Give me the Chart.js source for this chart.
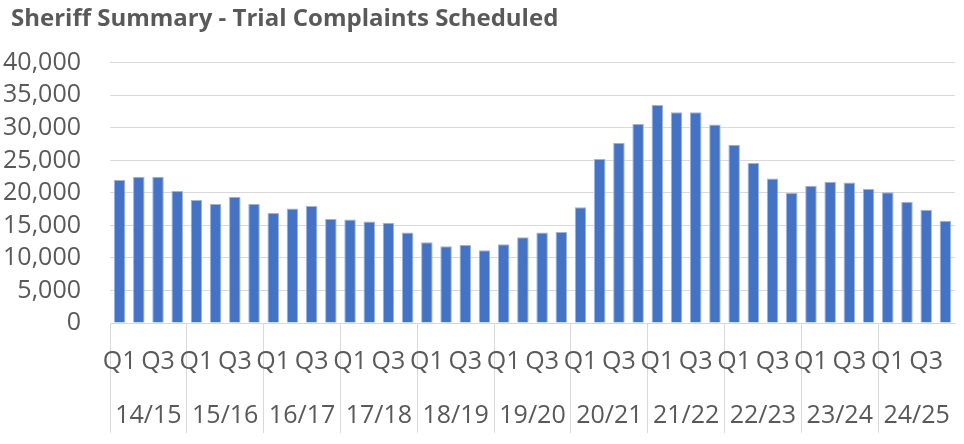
<!DOCTYPE html>
<html>
<head>
<meta charset="utf-8">
<script src="https://cdn.jsdelivr.net/npm/chart.js@4"></script>
<style>
  html, body { margin: 0; padding: 0; background: #fff; }
  #wrap { width: 964px; height: 444px; position: relative; }
</style>
</head>
<body>
<div id="wrap"><canvas id="chart"></canvas></div>
<script>
// fiscal years and quarters on the x axis
const years = ['14/15', '15/16', '16/17', '17/18', '18/19', '19/20', '20/21', '21/22', '22/23', '23/24', '24/25'];
const quarters = ['Q1', 'Q2', 'Q3', 'Q4'];

// trial complaints scheduled, one row of 4 quarters per year
const y1415 = [22000, 22500, 22500, 20300];
const y1516 = [18900, 18300, 19400, 18300];
const y1617 = [16900, 17600, 18000, 16000];
const y1718 = [15900, 15600, 15400, 13900];
const y1819 = [12400, 11800, 12000, 11200];
const y1920 = [12100, 13200, 13900, 14000];
const y2021 = [17800, 25200, 27700, 30600];
const y2122 = [33500, 32400, 32400, 30500];
const y2223 = [27400, 24600, 22200, 20000];
const y2324 = [21100, 21700, 21600, 20600];
const y2425 = [20100, 18600, 17400, 15700];

const yTicks = [0, 5000, 10000, 15000, 20000, 25000, 30000, 35000, 40000];

const labels = [];
years.forEach(y => quarters.forEach(q => labels.push(q)));
const values = [].concat(y1415, y1516, y1617, y1718, y1819, y1920, y2021, y2122, y2223, y2324, y2425);

const grey = '#595959';
const gridGrey = '#d9d9d9';
const font = { family: '"Open Sans", sans-serif', size: 25 };

// nudge the title right a little, the y labels need the room at the left edge
const titleIndent = {
  id: 'titleIndent',
  afterLayout(chart) {
    if (chart.titleBlock) {
      chart.titleBlock.left += 9;
      chart.titleBlock.right += 9;
    }
  }
};

new Chart(document.getElementById('chart').getContext('2d'), {
  type: 'bar',
  data: {
    labels: labels,
    datasets: [{
      data: values,
      backgroundColor: '#4472C4',
      borderColor: '#9db4e0',
      borderWidth: 1,
      barPercentage: 0.6,
      categoryPercentage: 1.0
    }]
  },
  plugins: [titleIndent],
  options: {
    responsive: true,
    maintainAspectRatio: false,
    animation: false,
    layout: { padding: { left: 2, right: 9, top: 0, bottom: 0 } },
    plugins: {
      legend: { display: false },
      tooltip: { enabled: false },
      title: {
        display: true,
        text: 'Sheriff Summary - Trial Complaints Scheduled',
        align: 'start',
        color: grey,
        font: { family: '"Open Sans", sans-serif', size: 24, weight: 'bold' },
        padding: { top: 5, bottom: 29 }
      }
    },
    scales: {
      // quarter labels, plus the long year separator lines
      x: {
        type: 'category',
        position: 'bottom',
        border: { display: true, color: gridGrey },
        grid: {
          offset: true,
          drawOnChartArea: false,
          drawTicks: true,
          tickLength: 110,
          color: ctx => (ctx.index % 4 === 0 ? gridGrey : 'rgba(0,0,0,0)')
        },
        afterFit: s => { s.height = 52; },
        ticks: {
          autoSkip: false,
          maxRotation: 0,
          minRotation: 0,
          padding: -86,
          color: grey,
          font: font,
          callback: (v, i) => (i % 2 === 0 ? labels[i] : '')
        }
      },
      // fiscal year labels centred under each group of four
      x2: {
        type: 'category',
        position: 'bottom',
        labels: years,
        offset: true,
        border: { display: false },
        grid: {
          offset: true,
          drawOnChartArea: false,
          drawTicks: true,
          tickLength: 26,
          color: 'rgba(0,0,0,0)'
        },
        afterFit: s => { s.height = 69; },
        ticks: {
          autoSkip: false,
          maxRotation: 0,
          padding: 0,
          color: grey,
          font: font
        }
      },
      y: {
        min: 0,
        max: 40000,
        border: { display: false },
        grid: { color: gridGrey, drawTicks: false },
        afterBuildTicks: s => { s.ticks = yTicks.map(v => ({ value: v })); },
        afterFit: s => { s.width = 108; },
        ticks: {
          autoSkip: false,
          padding: 29,
          color: grey,
          font: font,
          callback: v => v.toLocaleString('en-GB')
        }
      }
    }
  }
});
</script>
</body>
</html>
